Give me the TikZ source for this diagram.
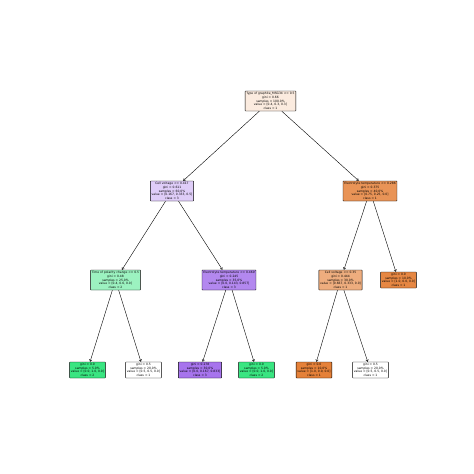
\documentclass[tikz,border=0pt]{standalone}
\usepackage{fontspec}
\setmainfont{DejaVu Sans}
\usetikzlibrary{arrows.meta}
\definecolor{cA}{RGB}{229,129,57}
\definecolor{cB}{RGB}{57,229,129}
\definecolor{cC}{RGB}{129,57,229}
\begin{document}
\begin{tikzpicture}[x=1pt,y=-1pt,
  tn/.style={draw=black, line width=0.45pt, rounded corners=0.5pt, align=center,
    font=\fontsize{3}{3.6}\selectfont, inner sep=1.3pt, minimum height=20pt},
  lf/.style={tn, minimum height=16pt},
  edge/.style={-{Straight Barb[length=2pt,width=2.6pt]}, line width=0.4pt}]
\useasboundingbox (0,0) rectangle (474,474);
\fill[white] (0,0) rectangle (474,474);

\node[tn, fill=cA!16] (r) at (270.5,101) {Type of graphite\_MSG34 <= 0.5\\gini = 0.66\\samples = 100.0\%\\value = [0.4, 0.3, 0.3]\\class = 1};

\node[tn, fill=cC!25] (l) at (172,191) {Cell voltage <= 0.417\\gini = 0.611\\samples = 60.0\%\\value = [0.167, 0.333, 0.5]\\class = 3};
\node[tn, fill=cA!85] (rt) at (370,191) {Electrolyte temperature <= 0.286\\gini = 0.375\\samples = 40.0\%\\value = [0.75, 0.25, 0.0]\\class = 1};

\node[tn, fill=cB!50] (ll) at (115.5,280) {Time of polarity change <= 0.5\\gini = 0.48\\samples = 25.0\%\\value = [0.4, 0.6, 0.0]\\class = 2};
\node[tn, fill=cC!60] (lr) at (229,280) {Electrolyte temperature <= 0.469\\gini = 0.245\\samples = 35.0\%\\value = [0.0, 0.143, 0.857]\\class = 3};
\node[tn, fill=cA!65] (rl) at (340.5,280) {Cell voltage <= 0.35\\gini = 0.444\\samples = 30.0\%\\value = [0.667, 0.333, 0.0]\\class = 1};
\node[lf, fill=cA!95] (rr) at (398.5,280) {gini = 0.0\\samples = 10.0\%\\value = [1.0, 0.0, 0.0]\\class = 1};

\node[lf, fill=cB] (lll) at (87.5,370) {gini = 0.0\\samples = 5.0\%\\value = [0.0, 1.0, 0.0]\\class = 2};
\node[lf, fill=white] (llr) at (143.5,370) {gini = 0.5\\samples = 20.0\%\\value = [0.5, 0.5, 0.0]\\class = 1};
\node[lf, fill=cC!70] (lrl) at (200,370) {gini = 0.278\\samples = 30.0\%\\value = [0.0, 0.167, 0.833]\\class = 3};
\node[lf, fill=cB] (lrr) at (256.5,370) {gini = 0.0\\samples = 5.0\%\\value = [0.0, 1.0, 0.0]\\class = 2};
\node[lf, fill=cA] (rll) at (314,370) {gini = 0.0\\samples = 10.0\%\\value = [1.0, 0.0, 0.0]\\class = 1};
\node[lf, fill=white] (rlr) at (370.5,370) {gini = 0.5\\samples = 20.0\%\\value = [0.5, 0.5, 0.0]\\class = 1};

\draw[edge] (r) -- (l);
\draw[edge] (r) -- (rt);
\draw[edge] (l) -- (ll);
\draw[edge] (l) -- (lr);
\draw[edge] (rt) -- (rl);
\draw[edge] (rt) -- (rr);
\draw[edge] (ll) -- (lll);
\draw[edge] (ll) -- (llr);
\draw[edge] (lr) -- (lrl);
\draw[edge] (lr) -- (lrr);
\draw[edge] (rl) -- (rll);
\draw[edge] (rl) -- (rlr);
\end{tikzpicture}
\end{document}
